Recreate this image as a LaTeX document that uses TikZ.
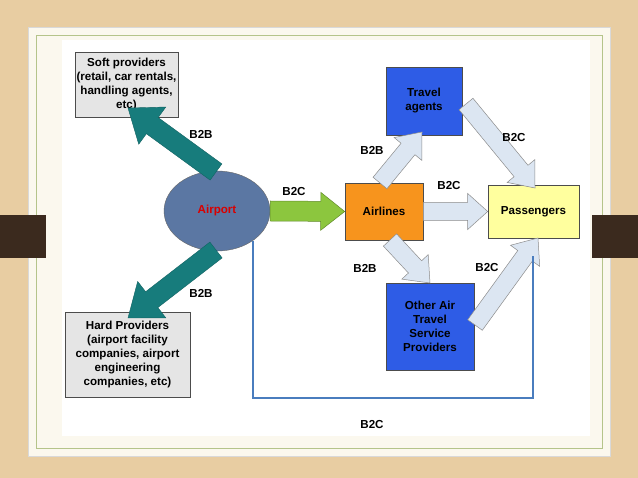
\documentclass[tikz,border=0pt]{standalone}
\usepackage{fontspec}
\setmainfont{Liberation Sans}
\usetikzlibrary{calc,shapes.geometric}
\definecolor{wood}{HTML}{E8CDA2}
\definecolor{card}{HTML}{FBF8EE}
\definecolor{frameg}{HTML}{B5C48A}
\definecolor{tab}{HTML}{3B2A1E}
\definecolor{teal}{HTML}{177C7C}
\definecolor{lgreen}{HTML}{8CC63E}
\definecolor{pale}{HTML}{DCE6F2}
\definecolor{apt}{HTML}{5B77A3}
\definecolor{orng}{HTML}{F7941D}
\definecolor{bluebox}{HTML}{2E5CE6}
\definecolor{yell}{HTML}{FFFF9E}
\definecolor{line}{HTML}{4A7DBE}
\newcommand\barrow[6]{%
  \begin{scope}
  \coordinate (H) at ($(#3)!#6!(#2)$);
  \draw[#1] ($(#2)!#4!90:(#3)$) -- ($(H)!#4!90:(#3)$) -- ($(H)!#5!90:(#3)$) -- (#3)
   -- ($(H)!#5!-90:(#3)$) -- ($(H)!#4!-90:(#3)$) -- ($(#2)!#4!-90:(#3)$) -- cycle;
  \end{scope}}
\begin{document}
\begin{tikzpicture}[x=1pt,y=-1pt,
  txt/.style={font=\fontsize{11.6}{14}\selectfont\bfseries},
  box/.style={draw=black!70,line width=0.6pt,align=center,inner sep=0pt,txt},
  lbl/.style={txt},
  teala/.style={fill=teal,draw=teal!80!black,line width=0.4pt},
  palea/.style={fill=pale,draw=black!45,line width=0.5pt},
  greena/.style={fill=lgreen,draw=lgreen!70!black,line width=0.5pt}]
\useasboundingbox (0,0) rectangle (638,478);
\fill[wood] (0,0) rectangle (638,478);
\fill[card,draw=black!15] (28,27) rectangle (610,456);
\draw[frameg,line width=0.8pt] (36,35) rectangle (602,448);
\fill[white] (62,40) rectangle (590,436);
\fill[tab] (0,215) rectangle (46,258);
\fill[tab] (592,215) rectangle (638,258);
% nodes
\node[box,fill=black!10,minimum width=103pt,minimum height=65pt] (soft) at (126.5,84.5) {Soft providers\\(retail, car rentals,\\handling agents,\\etc)};
\node[box,fill=black!10,minimum width=125pt,minimum height=85pt] (hard) at (127.5,354.5) {Hard Providers\\(airport facility\\companies, airport\\engineering\\companies, etc)};
\node[draw=black!60,fill=apt,ellipse,inner sep=0pt,minimum width=106pt,minimum height=80pt,txt,text=red!85!black] (air) at (217,211) {Airport};
\node[box,fill=orng,minimum width=78pt,minimum height=57pt] (al) at (384,211.5) {Airlines};
\node[box,fill=bluebox,minimum width=76pt,minimum height=68pt] (ta) at (424,101) {Travel\\agents};
\node[box,fill=bluebox,minimum width=88pt,minimum height=87pt] (oa) at (430,326.5) {Other Air\\Travel\\Service\\Providers};
\node[box,fill=yell,minimum width=91pt,minimum height=53pt] (pa) at (533.5,211.5) {Passengers};
% arrows
\coordinate (t1s) at (216,172); \coordinate (t1e) at (128,108);
\coordinate (t2s) at (216,250); \coordinate (t2e) at (128,318);
\barrow{teala}{t1s}{t1e}{10pt}{23pt}{30pt}
\barrow{teala}{t2s}{t2e}{10pt}{23pt}{30pt}
\coordinate (g1) at (air.east); \coordinate (g2) at (al.west);
\barrow{greena}{g1}{g2}{10pt}{19pt}{24pt}
\coordinate (a1) at (380,183); \coordinate (a2) at (422,132);
\barrow{palea}{a1}{a2}{9pt}{18pt}{22pt}
\coordinate (b1) at (466,104); \coordinate (b2) at (535,188);
\barrow{palea}{b1}{b2}{9pt}{18pt}{22pt}
\coordinate (c1) at (al.east); \coordinate (c2) at (pa.west);
\barrow{palea}{c1}{c2}{9pt}{18pt}{20pt}
\coordinate (d1) at (390,240); \coordinate (d2) at (430,283);
\barrow{palea}{d1}{d2}{9pt}{18pt}{22pt}
\coordinate (e1) at (475,325); \coordinate (e2) at (538,238);
\barrow{palea}{e1}{e2}{9pt}{18pt}{22pt}
\coordinate (l1) at (253,241); \coordinate (l2) at (533,256);
\draw[line,line width=2.8pt] (l1) |- (533,398) -- (l2);
% labels
\node[lbl] at (201,134) {B2B};
\node[lbl] at (372,150) {B2B};
\node[lbl] at (514,138) {B2C};
\node[lbl] at (294,192) {B2C};
\node[lbl] at (449,186) {B2C};
\node[lbl] at (365,268) {B2B};
\node[lbl] at (487,268) {B2C};
\node[lbl] at (201,293) {B2B};
\node[lbl] at (372,425) {B2C};
\end{tikzpicture}
\end{document}
